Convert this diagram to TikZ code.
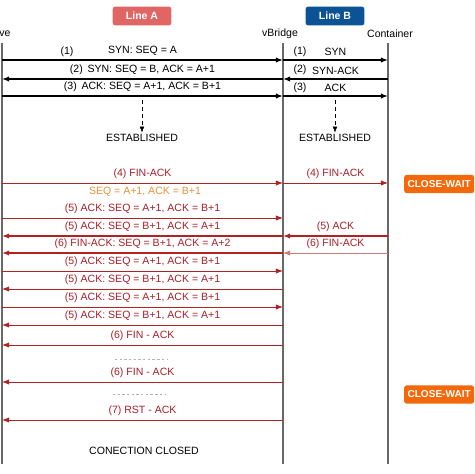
\documentclass[tikz,border=0pt]{standalone}
\usepackage{fontspec}
\setmainfont{Liberation Sans}
\usepackage{tikz}
\usetikzlibrary{arrows.meta}

\begin{document}
\begin{tikzpicture}
		[x=0.03cm,y=-0.03cm,line cap=butt,font=\fontsize{9}{11}\selectfont,
		%Styles
		lifeline/.style={draw=lifegray,line width=0.9pt},
		hand msg/.style={draw=black,line width=1.1pt,-{Latex[length=6pt,width=4.5pt]}},
		msg/.style={draw=msgred,line width=0.8pt,-{Latex[length=6pt,width=4.5pt]}},
		strong msg/.style={msg,line width=1.3pt},
		faint msg/.style={msg,draw=msgred!60},
		red text/.style={text=textred},
		line box/.style={rounded corners=2pt,text=white,minimum width=50pt,minimum height=16pt,inner sep=0pt,font=\fontsize{9}{11}\selectfont\bfseries},
		state box/.style={rounded corners=2pt,fill=waitorange,text=white,minimum width=59.6pt,minimum height=15.5pt,inner sep=0pt,font=\fontsize{8.6}{11}\selectfont\bfseries,anchor=west},
		gap line/.style={draw=gray!60,line width=0.5pt,dash pattern=on 2pt off 2pt}
		]
		
		%Colors
		\definecolor{msgred}{RGB}{178,34,34}
		\definecolor{textred}{RGB}{168,30,40}
		\definecolor{seqorange}{RGB}{230,145,56}
		\definecolor{lineAred}{RGB}{224,102,102}
		\definecolor{lineBblue}{RGB}{11,83,148}
		\definecolor{waitorange}{RGB}{242,104,10}
		\definecolor{lifegray}{RGB}{105,105,105}
		
		\useasboundingbox (0,0) rectangle (474,474);
		
		%Headers
		\node[line box,fill=lineAred] (lineA) at (142,16) {Line A};
		\node[line box,fill=lineBblue] (lineB) at (335,16) {Line B};
		\node (slave) at (5,34) {ve};
		\node (vbridge) at (280,34) {vBridge};
		\node (container) at (390,34) {Container};
		
		%Lifelines
		\coordinate (Stop) at (2,43);
		\coordinate (Sbot) at (2,464);
		\coordinate (Btop) at (283,43);
		\coordinate (Bbot) at (283,464);
		\coordinate (Ctop) at (388,43);
		\coordinate (Cbot) at (388,464);
		\draw[lifeline,line width=2.4pt] (Stop) -- (Sbot);
		\draw[lifeline] (Btop) -- (Bbot);
		\draw[lifeline] (Ctop) -- (Cbot);
		
		\foreach \n/\y in {1/60,2/79,3/96,4/183,5/218,6/236,7/253,8/271,9/289,10/307,11/325,12/345,13/382,14/420}
			{\coordinate (S\n) at (2,\y); \coordinate (B\n) at (283,\y); \coordinate (C\n) at (388,\y);}
		
		%Handshake
		\path[every edge/.style={hand msg}]
			(S1)	edge	node[above] {SYN: SEQ = A}	(B1)
			(B2)	edge	node[above] {(2)\, SYN: SEQ = B, ACK = A+1}	(S2)
			(S3)	edge	node[above] {(3)\, ACK: SEQ = A+1, ACK = B+1}	(B3)
			(B1)	edge	node[above] {SYN}	(C1)
			(C2)	edge	node[above] {SYN-ACK}	(B2)
			(B3)	edge	node[above] {ACK}	(C3);
		\node (n1A) at (67,52) {(1)};
		\node (n1B) at (300,52) {(1)};
		\node (n2B) at (300,70) {(2)};
		\node (n3B) at (300,88) {(3)};
		
		\node (estA) at (142,138) {ESTABLISHED};
		\node (estB) at (335,138) {ESTABLISHED};
		\coordinate (dA) at (142,100);
		\coordinate (dB) at (335,100);
		\draw[dashed,-{Latex[length=5pt,width=4pt]}] (dA) -- ([yshift=-2pt]estA.north);
		\draw[dashed,-{Latex[length=5pt,width=4pt]}] (dB) -- ([yshift=-2pt]estB.north);
		
		%Closing
		\path[every edge/.style={msg},every node/.style={red text}]
			(S4)	edge	node[above] {(4) FIN-ACK}	(B4)
			(B4)	edge	node[above] {(4) FIN-ACK}	(C4)
			(S5)	edge	node[above] {(5) ACK: SEQ = A+1, ACK = B+1}	(B5)
			(B6)	edge[strong msg]	node[above] {(5) ACK: SEQ = B+1, ACK = A+1}	(S6)
			(C6)	edge[strong msg]	node[above] {(5) ACK}	(B6)
			(B7)	edge[strong msg]	node[above] {(6) FIN-ACK: SEQ = B+1, ACK = A+2}	(S7)
			(C7)	edge[faint msg]	node[above] {(6) FIN-ACK}	(B7)
			(S8)	edge	node[above] {(5) ACK: SEQ = A+1, ACK = B+1}	(B8)
			(B9)	edge	node[above] {(5) ACK: SEQ = B+1, ACK = A+1}	(S9)
			(S10)	edge	node[above] {(5) ACK: SEQ = A+1, ACK = B+1}	(B10)
			(B11)	edge	node[above] {(5) ACK: SEQ = B+1, ACK = A+1}	(S11)
			(B12)	edge	node[above] {(6) FIN - ACK}	(S12)
			(B13)	edge	node[above] {(6) FIN - ACK}	(S13)
			(B14)	edge	node[above] {(7) RST - ACK}	(S14);
		
		\node[text=seqorange] (seq) at (145,192) {SEQ = A+1, ACK = B+1};
		
		\draw[gap line] (115,359) -- (167,359);
		\draw[gap line] (113,394) -- (165,394);
		
		\node (closed) at (144,451) {CONECTION CLOSED};
		
		\node[state box] (wait1) at (404,184) {CLOSE-WAIT};
		\node[state box] (wait2) at (404,394.5) {CLOSE-WAIT};
	\end{tikzpicture}
\end{document}
